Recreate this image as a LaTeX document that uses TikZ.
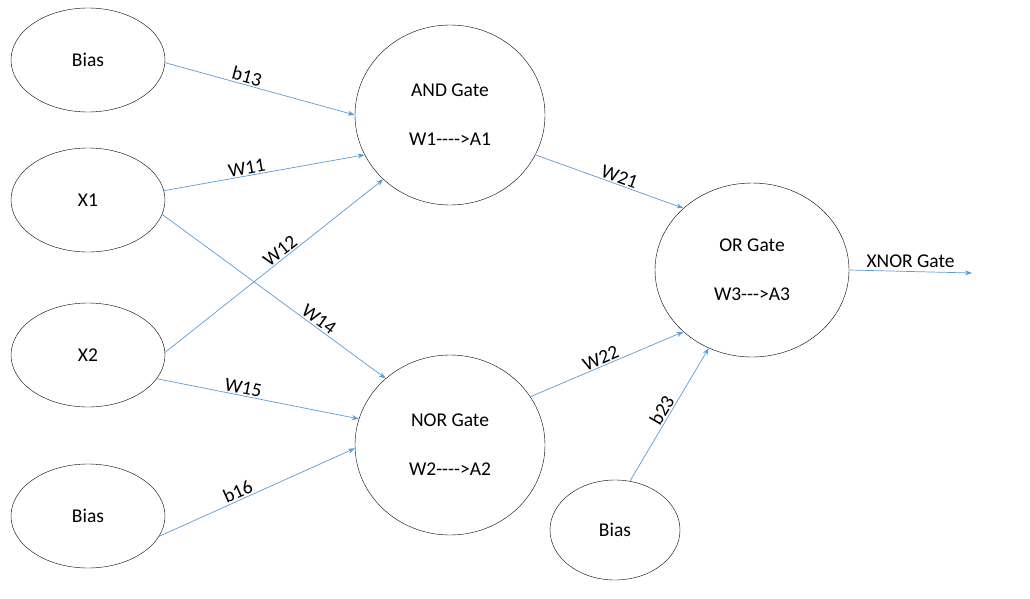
\documentclass[tikz,border=0pt]{standalone}
\usepackage{fontspec}
\setmainfont{Carlito}
\usetikzlibrary{shapes.geometric,arrows.meta}
\definecolor{lnk}{HTML}{5B9BD5}
\newcommand{\dsh}{{-}}
\begin{document}
\begin{tikzpicture}[x=1pt,y=-1pt,font=\fontsize{19.5}{22}\selectfont,
  el/.style={draw,ellipse,inner sep=0pt,align=center},
  inp/.style={el,minimum width=154pt,minimum height=104pt},
  gate/.style={el,minimum width=190pt,minimum height=180pt},
  con/.style={draw=lnk,line width=0.7pt,-{Stealth[length=7pt,width=5pt]}},
  lab/.style={sloped,above,inner sep=1.5pt,text=black}]
\useasboundingbox (0,0) rectangle (1030,599);
\node[inp] (b1) at (88,60) {Bias};
\node[inp] (x1) at (88,200) {X1};
\node[inp] (x2) at (88,355) {X2};
\node[inp] (b2) at (88,516) {Bias};
\node[gate] (and) at (450,115) {AND Gate\\[27pt]W1\dsh\dsh\dsh\dsh>A1};
\node[gate] (nor) at (450,445) {NOR Gate\\[27pt]W2\dsh\dsh\dsh\dsh>A2};
\node[el,minimum width=194pt,minimum height=174pt] (or) at (752,270) {OR Gate\\[27pt]W3\dsh\dsh\dsh>A3};
\node[el,minimum width=130pt,minimum height=100pt] (b3) at (615,530) {Bias};
\coordinate (out) at (972,273);
\draw[con] (b1.-2) -- node[lab,pos=0.42]{b13} (and.180);
\draw[con] (x1.7) -- node[lab,pos=0.42]{W11} (and.205);
\draw[con] (x2.2) -- node[lab,pos=0.55]{W12} (and.224);
\draw[con] (x1.-11) -- node[lab,pos=0.68]{W14} (nor.134);
\draw[con] (x2.-19) -- node[lab,pos=0.42]{W15} (nor.164);
\draw[con] (b2.-16) -- node[lab,pos=0.42]{b16} (nor.182);
\draw[con] (and.-25) -- node[lab,pos=0.55]{W21} (or.138);
\draw[con] (nor.31) -- node[lab,pos=0.48]{W22} (or.222);
\draw[con] (b3.73) -- node[lab,pos=0.5]{b23} (or.241);
\draw[con] (or.east) -- node[above,text=black,pos=0.5]{XNOR Gate} (out);
\end{tikzpicture}
\end{document}
